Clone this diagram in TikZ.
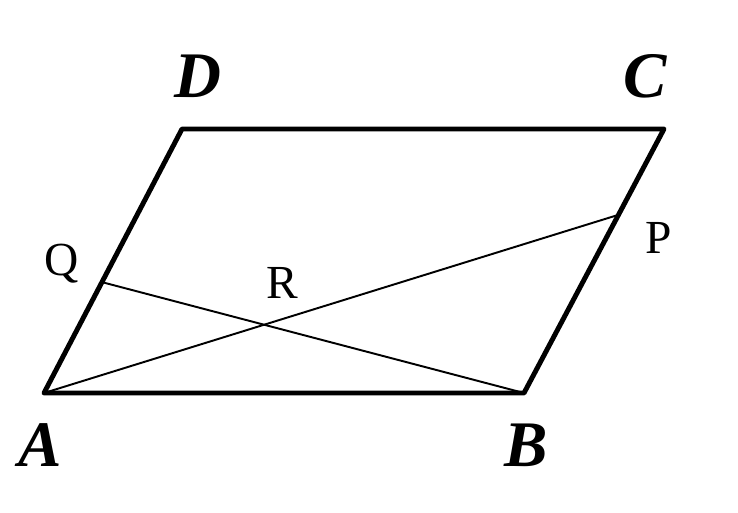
\documentclass[tikz,border=0pt]{standalone}
\usepackage{fontspec}
\setmainfont{Liberation Serif}
\usetikzlibrary{calc}
\begin{document}
\begin{tikzpicture}[x=0.02cm,y=-0.02cm]
            \useasboundingbox (0,0) rectangle (738,512);
            \coordinate (A) at (44,393);
            \coordinate (B) at (524,393);
            \coordinate (C) at (664,129);
            \coordinate (D) at (182,129);
            \coordinate (Q) at ($(A)!0.42!(D)$);
            \coordinate (P) at ($(B)!0.675!(C)$);
            \draw [line width=2.8pt, line join=round] (A) -- (B) -- (C) -- (D) -- cycle;
            \draw [line width=1.1pt] (A) -- (P);
            \draw [line width=1.1pt] (B) -- (Q);
            \tikzset{big/.style={font=\fontsize{37}{37}\selectfont\bfseries\itshape}, small/.style={font=\fontsize{27}{27}\selectfont}}
            \node [big] (a) at (40,445) {A};
            \node [big] (b) at (526,445) {B};
            \node [big] (c) at (645,76) {C};
            \node [big] (d) at (198,76) {D};
            \node [small] (q) at (62,264) {Q};
            \node [small] (r) at (282,283) {R};
            \node [small] (p) at (659,238) {P};
        \end{tikzpicture}
\end{document}
